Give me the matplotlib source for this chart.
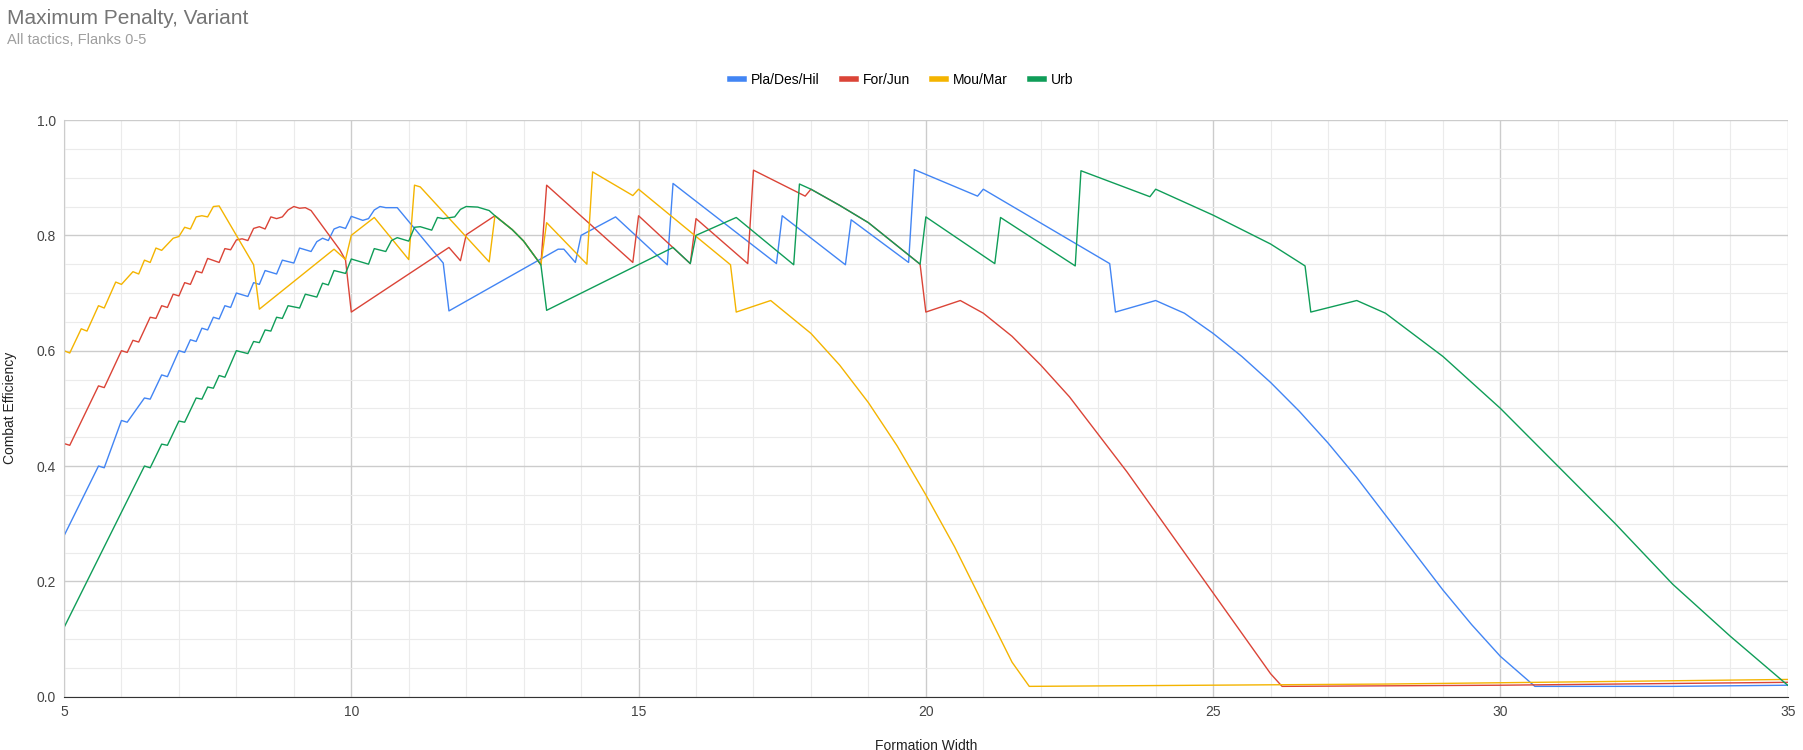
import matplotlib
matplotlib.use("Agg")
import matplotlib.pyplot as plt
from matplotlib.lines import Line2D

# Formation width (x) / combat efficiency (y) vertices
pla_x = [5.0, 5.6, 5.7, 6.0, 6.1, 6.4, 6.5, 6.7, 6.8, 7.0, 7.1, 7.2, 7.3, 7.4, 7.5, 7.6, 7.7,
         7.8, 7.9, 8.0, 8.2, 8.3, 8.4, 8.5, 8.7, 8.8, 9.0, 9.1, 9.3, 9.4, 9.5, 9.6, 9.7, 9.8,
         9.9, 10.0, 10.2, 10.3, 10.4, 10.5, 10.6, 10.8, 11.6, 11.7, 13.6, 13.7, 13.9, 14.0, 14.6,
         15.5, 15.6, 17.4, 17.5, 18.6, 18.7, 19.7, 19.8, 20.9, 21.0, 23.2, 23.3, 24.0, 24.5, 25.0,
         25.5, 26.0, 26.5, 27.0, 27.5, 28.0, 28.5, 29.0, 29.5, 30.0, 30.6, 33.0, 35.0]
pla_y = [0.279, 0.400, 0.397, 0.479, 0.476, 0.518, 0.516, 0.558, 0.555, 0.600, 0.597, 0.619,
         0.616, 0.639, 0.636, 0.658, 0.655, 0.678, 0.675, 0.700, 0.694, 0.718, 0.715, 0.739, 0.733,
         0.757, 0.752, 0.778, 0.772, 0.789, 0.795, 0.791, 0.811, 0.815, 0.812, 0.833, 0.826, 0.829,
         0.844, 0.850, 0.848, 0.848, 0.752, 0.669, 0.776, 0.776, 0.753, 0.800, 0.832, 0.749, 0.890,
         0.751, 0.834, 0.749, 0.827, 0.753, 0.914, 0.868, 0.880, 0.751, 0.667, 0.687, 0.665, 0.630,
         0.590, 0.545, 0.495, 0.440, 0.380, 0.315, 0.250, 0.185, 0.125, 0.070, 0.018, 0.018, 0.020]

for_x = [5.0, 5.1, 5.6, 5.7, 6.0, 6.1, 6.2, 6.3, 6.5, 6.6, 6.7, 6.8, 6.9, 7.0, 7.1, 7.2, 7.3,
         7.4, 7.5, 7.7, 7.8, 7.9, 8.0, 8.1, 8.2, 8.3, 8.4, 8.5, 8.6, 8.7, 8.8, 8.9, 9.0, 9.1, 9.2,
         9.3, 9.8, 9.9, 10.0, 11.7, 11.9, 12.0, 12.5, 12.8, 13.0, 13.3, 13.4, 14.9, 15.0, 15.9,
         16.0, 16.9, 17.0, 17.9, 18.0, 18.5, 19.0, 19.5, 19.9, 20.0, 20.6, 21.0, 21.5, 22.0, 22.5,
         23.0, 23.5, 24.0, 24.5, 25.0, 25.5, 26.0, 26.2, 30.0, 35.0]
for_y = [0.439, 0.436, 0.539, 0.536, 0.600, 0.597, 0.618, 0.615, 0.658, 0.656, 0.678, 0.675,
         0.698, 0.695, 0.718, 0.715, 0.738, 0.735, 0.760, 0.753, 0.777, 0.775, 0.792, 0.794, 0.791,
         0.812, 0.815, 0.811, 0.832, 0.829, 0.832, 0.844, 0.850, 0.847, 0.848, 0.843, 0.775, 0.757,
         0.667, 0.779, 0.756, 0.801, 0.834, 0.810, 0.790, 0.749, 0.887, 0.753, 0.834, 0.751, 0.829,
         0.751, 0.913, 0.868, 0.880, 0.852, 0.822, 0.782, 0.750, 0.667, 0.687, 0.665, 0.625, 0.575,
         0.520, 0.455, 0.390, 0.320, 0.250, 0.180, 0.110, 0.040, 0.018, 0.020, 0.025]

mou_x = [5.0, 5.1, 5.3, 5.4, 5.6, 5.7, 5.9, 6.0, 6.2, 6.3, 6.4, 6.5, 6.6, 6.7, 6.9, 7.0, 7.1,
         7.2, 7.3, 7.4, 7.5, 7.6, 7.7, 8.3, 8.4, 9.7, 9.9, 10.0, 10.4, 11.0, 11.1, 11.2, 12.4,
         12.5, 12.8, 13.0, 13.3, 13.4, 14.1, 14.2, 14.9, 15.0, 16.6, 16.7, 17.3, 18.0, 18.5, 19.0,
         19.5, 20.0, 20.5, 21.0, 21.5, 21.8, 28.0, 35.0]
mou_y = [0.600, 0.596, 0.638, 0.634, 0.678, 0.674, 0.719, 0.715, 0.737, 0.733, 0.757, 0.753,
         0.778, 0.774, 0.795, 0.798, 0.814, 0.811, 0.832, 0.834, 0.832, 0.850, 0.851, 0.749, 0.672,
         0.776, 0.758, 0.800, 0.831, 0.758, 0.887, 0.884, 0.754, 0.834, 0.810, 0.790, 0.749, 0.822,
         0.750, 0.910, 0.869, 0.880, 0.749, 0.667, 0.687, 0.630, 0.575, 0.510, 0.435, 0.350, 0.260,
         0.160, 0.060, 0.018, 0.022, 0.030]

urb_x = [5.0, 6.4, 6.5, 6.7, 6.8, 7.0, 7.1, 7.3, 7.4, 7.5, 7.6, 7.7, 7.8, 8.0, 8.2, 8.3, 8.4,
         8.5, 8.6, 8.7, 8.8, 8.9, 9.1, 9.2, 9.4, 9.5, 9.6, 9.7, 9.9, 10.0, 10.3, 10.4, 10.6, 10.7,
         10.8, 11.0, 11.1, 11.2, 11.4, 11.5, 11.6, 11.8, 11.9, 12.0, 12.2, 12.4, 12.5, 12.8, 13.0,
         13.3, 13.4, 15.6, 15.9, 16.0, 16.7, 17.7, 17.8, 18.0, 18.5, 19.0, 19.5, 19.9, 20.0, 21.2,
         21.3, 22.6, 22.7, 23.9, 24.0, 25.0, 26.0, 26.6, 26.7, 27.5, 28.0, 29.0, 30.0, 31.0, 32.0,
         33.0, 34.0, 35.0]
urb_y = [0.120, 0.400, 0.397, 0.438, 0.436, 0.478, 0.476, 0.518, 0.516, 0.537, 0.535, 0.557,
         0.554, 0.600, 0.595, 0.616, 0.614, 0.636, 0.634, 0.658, 0.656, 0.678, 0.674, 0.698, 0.693,
         0.717, 0.714, 0.739, 0.734, 0.759, 0.750, 0.777, 0.772, 0.791, 0.796, 0.790, 0.814, 0.815,
         0.809, 0.831, 0.829, 0.832, 0.845, 0.850, 0.849, 0.843, 0.834, 0.810, 0.790, 0.749, 0.670,
         0.779, 0.751, 0.800, 0.831, 0.749, 0.889, 0.880, 0.852, 0.822, 0.782, 0.750, 0.832, 0.751,
         0.831, 0.747, 0.912, 0.867, 0.880, 0.835, 0.785, 0.747, 0.667, 0.687, 0.665, 0.590, 0.500,
         0.400, 0.300, 0.195, 0.105, 0.020]

series = [("Pla/Des/Hil", pla_x, pla_y, "#4285F4"),
          ("For/Jun", for_x, for_y, "#DB4437"),
          ("Mou/Mar", mou_x, mou_y, "#F4B400"),
          ("Urb", urb_x, urb_y, "#0F9D58")]

plt.rcParams["font.family"] = ["Liberation Sans", "DejaVu Sans"]
fig = plt.figure(figsize=(18.03, 7.5), dpi=100)
ax = fig.add_axes([0.0355, 0.071, 0.956, 0.769])

for name, xs, ys, col in series:
    ax.plot(xs, ys, color=col, lw=1.0, label=name)

ax.set_xlim(5, 35)
ax.set_ylim(0, 1.0)
ax.set_xticks(range(5, 36, 5))
ax.set_xticks(range(5, 36), minor=True)
ax.set_yticks([0, 0.2, 0.4, 0.6, 0.8, 1.0])
ax.set_yticks([i * 0.05 for i in range(21)], minor=True)
ax.set_yticklabels(["0.0", "0.2", "0.4", "0.6", "0.8", "1.0"])
ax.grid(which="major", color="#cccccc", lw=1.0)
ax.grid(which="minor", color="#ebebeb", lw=0.8)
ax.set_axisbelow(True)
for s in ["top", "right"]:
    ax.spines[s].set_visible(False)
ax.spines["left"].set_color("#cccccc")
ax.spines["bottom"].set_color("#333333")
ax.tick_params(which="both", length=0, labelsize=10, colors="#444444", pad=6)
ax.set_xlabel("Formation Width", fontsize=10, color="#222222", labelpad=14)
ax.set_ylabel("Combat Efficiency", fontsize=10, color="#222222", labelpad=14)

fig.text(0.004, 0.976, "Maximum Penalty, Variant", fontsize=15, color="#757575", va="center")
fig.text(0.004, 0.947, "All tactics, Flanks 0-5", fontsize=10.5, color="#9e9e9e", va="center")

handles = [Line2D([0], [0], color=c, lw=4) for _, _, _, c in series]
fig.legend(handles, [n for n, _, _, _ in series], loc="center", bbox_to_anchor=(0.5, 0.893),
           ncol=4, frameon=False, fontsize=10, handlelength=1.0, handletextpad=0.5,
           columnspacing=1.6)

fig.savefig("out.png", dpi=100)
